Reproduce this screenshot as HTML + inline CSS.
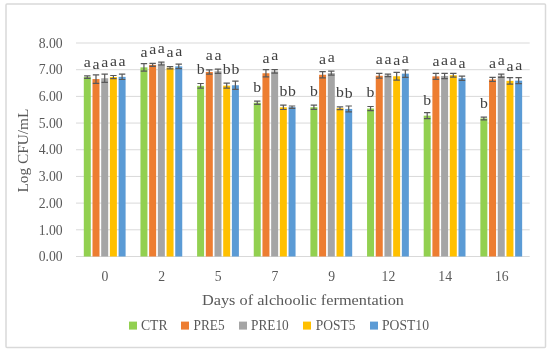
<!DOCTYPE html>
<html><head><meta charset="utf-8"><title>Chart</title>
<style>html,body{margin:0;padding:0;background:#fff}body{width:550px;height:353px;overflow:hidden}</style>
</head><body>
<svg width="550" height="353" viewBox="0 0 550 353" style="display:block;font-family:'Liberation Serif', serif">
<rect x="0" y="0" width="550" height="353" fill="#fff"/>
<rect x="6" y="4" width="539.5" height="343.5" fill="#fff" stroke="#D9D9D9" stroke-width="1.5" rx="1"/>
<line x1="76" x2="529.7" y1="256.50" y2="256.50" stroke="#D9D9D9" stroke-width="1"/>
<text x="62.6" y="261.20" text-anchor="end" font-size="13.7" fill="#595959">0.00</text>
<line x1="76" x2="529.7" y1="229.81" y2="229.81" stroke="#D9D9D9" stroke-width="1"/>
<text x="62.6" y="234.51" text-anchor="end" font-size="13.7" fill="#595959">1.00</text>
<line x1="76" x2="529.7" y1="203.12" y2="203.12" stroke="#D9D9D9" stroke-width="1"/>
<text x="62.6" y="207.82" text-anchor="end" font-size="13.7" fill="#595959">2.00</text>
<line x1="76" x2="529.7" y1="176.44" y2="176.44" stroke="#D9D9D9" stroke-width="1"/>
<text x="62.6" y="181.14" text-anchor="end" font-size="13.7" fill="#595959">3.00</text>
<line x1="76" x2="529.7" y1="149.75" y2="149.75" stroke="#D9D9D9" stroke-width="1"/>
<text x="62.6" y="154.45" text-anchor="end" font-size="13.7" fill="#595959">4.00</text>
<line x1="76" x2="529.7" y1="123.06" y2="123.06" stroke="#D9D9D9" stroke-width="1"/>
<text x="62.6" y="127.76" text-anchor="end" font-size="13.7" fill="#595959">5.00</text>
<line x1="76" x2="529.7" y1="96.38" y2="96.38" stroke="#D9D9D9" stroke-width="1"/>
<text x="62.6" y="101.08" text-anchor="end" font-size="13.7" fill="#595959">6.00</text>
<line x1="76" x2="529.7" y1="69.69" y2="69.69" stroke="#D9D9D9" stroke-width="1"/>
<text x="62.6" y="74.39" text-anchor="end" font-size="13.7" fill="#595959">7.00</text>
<line x1="76" x2="529.7" y1="43.00" y2="43.00" stroke="#D9D9D9" stroke-width="1"/>
<text x="62.6" y="47.70" text-anchor="end" font-size="13.7" fill="#595959">8.00</text>
<rect x="83.80" y="77.05" width="7.0" height="179.45" fill="#92D050"/>
<rect x="92.50" y="79.05" width="7.0" height="177.45" fill="#ED7D31"/>
<rect x="101.20" y="78.25" width="7.0" height="178.25" fill="#A5A5A5"/>
<rect x="109.90" y="77.05" width="7.0" height="179.45" fill="#FFC000"/>
<rect x="118.60" y="76.85" width="7.0" height="179.65" fill="#5B9BD5"/>
<rect x="140.45" y="67.35" width="7.0" height="189.15" fill="#92D050"/>
<rect x="149.15" y="64.85" width="7.0" height="191.65" fill="#ED7D31"/>
<rect x="157.85" y="63.55" width="7.0" height="192.95" fill="#A5A5A5"/>
<rect x="166.55" y="67.75" width="7.0" height="188.75" fill="#FFC000"/>
<rect x="175.25" y="66.35" width="7.0" height="190.15" fill="#5B9BD5"/>
<rect x="197.10" y="85.85" width="7.0" height="170.65" fill="#92D050"/>
<rect x="205.80" y="71.95" width="7.0" height="184.55" fill="#ED7D31"/>
<rect x="214.50" y="71.25" width="7.0" height="185.25" fill="#A5A5A5"/>
<rect x="223.20" y="85.65" width="7.0" height="170.85" fill="#FFC000"/>
<rect x="231.90" y="85.25" width="7.0" height="171.25" fill="#5B9BD5"/>
<rect x="253.75" y="102.75" width="7.0" height="153.75" fill="#92D050"/>
<rect x="262.45" y="73.25" width="7.0" height="183.25" fill="#ED7D31"/>
<rect x="271.15" y="71.45" width="7.0" height="185.05" fill="#A5A5A5"/>
<rect x="279.85" y="107.35" width="7.0" height="149.15" fill="#FFC000"/>
<rect x="288.55" y="107.15" width="7.0" height="149.35" fill="#5B9BD5"/>
<rect x="310.40" y="107.25" width="7.0" height="149.25" fill="#92D050"/>
<rect x="319.10" y="74.75" width="7.0" height="181.75" fill="#ED7D31"/>
<rect x="327.80" y="73.15" width="7.0" height="183.35" fill="#A5A5A5"/>
<rect x="336.50" y="108.25" width="7.0" height="148.25" fill="#FFC000"/>
<rect x="345.20" y="108.95" width="7.0" height="147.55" fill="#5B9BD5"/>
<rect x="367.05" y="108.55" width="7.0" height="147.95" fill="#92D050"/>
<rect x="375.75" y="75.75" width="7.0" height="180.75" fill="#ED7D31"/>
<rect x="384.45" y="75.45" width="7.0" height="181.05" fill="#A5A5A5"/>
<rect x="393.15" y="76.25" width="7.0" height="180.25" fill="#FFC000"/>
<rect x="401.85" y="73.65" width="7.0" height="182.85" fill="#5B9BD5"/>
<rect x="423.70" y="115.65" width="7.0" height="140.85" fill="#92D050"/>
<rect x="432.40" y="76.35" width="7.0" height="180.15" fill="#ED7D31"/>
<rect x="441.10" y="75.95" width="7.0" height="180.55" fill="#A5A5A5"/>
<rect x="449.80" y="75.25" width="7.0" height="181.25" fill="#FFC000"/>
<rect x="458.50" y="78.25" width="7.0" height="178.25" fill="#5B9BD5"/>
<rect x="480.35" y="118.45" width="7.0" height="138.05" fill="#92D050"/>
<rect x="489.05" y="79.45" width="7.0" height="177.05" fill="#ED7D31"/>
<rect x="497.75" y="75.75" width="7.0" height="180.75" fill="#A5A5A5"/>
<rect x="506.45" y="80.85" width="7.0" height="175.65" fill="#FFC000"/>
<rect x="515.15" y="80.65" width="7.0" height="175.85" fill="#5B9BD5"/>
<path d="M87.30 75.80V78.30M84.10 75.80H90.50M84.10 78.30H90.50" stroke="#595959" stroke-width="1.2" fill="none"/>
<text transform="translate(87.30,66.50) scale(1.15,1)" text-anchor="middle" font-size="13.7" fill="#404040">a</text>
<path d="M96.00 74.80V83.30M92.80 74.80H99.20M92.80 83.30H99.20" stroke="#595959" stroke-width="1.2" fill="none"/>
<text transform="translate(96.00,68.70) scale(1.15,1)" text-anchor="middle" font-size="13.7" fill="#404040">a</text>
<path d="M104.70 74.10V82.40M101.50 74.10H107.90M101.50 82.40H107.90" stroke="#595959" stroke-width="1.2" fill="none"/>
<text transform="translate(104.70,67.40) scale(1.15,1)" text-anchor="middle" font-size="13.7" fill="#404040">a</text>
<path d="M113.40 75.50V78.60M110.20 75.50H116.60M110.20 78.60H116.60" stroke="#595959" stroke-width="1.2" fill="none"/>
<text transform="translate(113.40,66.20) scale(1.15,1)" text-anchor="middle" font-size="13.7" fill="#404040">a</text>
<path d="M122.10 74.20V79.50M118.90 74.20H125.30M118.90 79.50H125.30" stroke="#595959" stroke-width="1.2" fill="none"/>
<text transform="translate(122.10,66.40) scale(1.15,1)" text-anchor="middle" font-size="13.7" fill="#404040">a</text>
<path d="M143.95 63.60V71.10M140.75 63.60H147.15M140.75 71.10H147.15" stroke="#595959" stroke-width="1.2" fill="none"/>
<text transform="translate(143.95,56.80) scale(1.15,1)" text-anchor="middle" font-size="13.7" fill="#404040">a</text>
<path d="M152.65 63.40V66.30M149.45 63.40H155.85M149.45 66.30H155.85" stroke="#595959" stroke-width="1.2" fill="none"/>
<text transform="translate(152.65,53.60) scale(1.15,1)" text-anchor="middle" font-size="13.7" fill="#404040">a</text>
<path d="M161.35 62.10V65.00M158.15 62.10H164.55M158.15 65.00H164.55" stroke="#595959" stroke-width="1.2" fill="none"/>
<text transform="translate(161.35,52.95) scale(1.15,1)" text-anchor="middle" font-size="13.7" fill="#404040">a</text>
<path d="M170.05 66.60V68.90M166.85 66.60H173.25M166.85 68.90H173.25" stroke="#595959" stroke-width="1.2" fill="none"/>
<text transform="translate(170.05,57.00) scale(1.15,1)" text-anchor="middle" font-size="13.7" fill="#404040">a</text>
<path d="M178.75 64.10V68.60M175.55 64.10H181.95M175.55 68.60H181.95" stroke="#595959" stroke-width="1.2" fill="none"/>
<text transform="translate(178.75,55.80) scale(1.15,1)" text-anchor="middle" font-size="13.7" fill="#404040">a</text>
<path d="M200.60 83.50V88.20M197.40 83.50H203.80M197.40 88.20H203.80" stroke="#595959" stroke-width="1.2" fill="none"/>
<text transform="translate(200.60,74.40) scale(1.15,1)" text-anchor="middle" font-size="13.7" fill="#404040">b</text>
<path d="M209.30 69.80V74.10M206.10 69.80H212.50M206.10 74.10H212.50" stroke="#595959" stroke-width="1.2" fill="none"/>
<text transform="translate(209.30,60.40) scale(1.15,1)" text-anchor="middle" font-size="13.7" fill="#404040">a</text>
<path d="M218.00 69.10V73.40M214.80 69.10H221.20M214.80 73.40H221.20" stroke="#595959" stroke-width="1.2" fill="none"/>
<text transform="translate(218.00,60.20) scale(1.15,1)" text-anchor="middle" font-size="13.7" fill="#404040">a</text>
<path d="M226.70 83.10V88.20M223.50 83.10H229.90M223.50 88.20H229.90" stroke="#595959" stroke-width="1.2" fill="none"/>
<text transform="translate(226.70,74.40) scale(1.15,1)" text-anchor="middle" font-size="13.7" fill="#404040">b</text>
<path d="M235.40 81.10V89.40M232.20 81.10H238.60M232.20 89.40H238.60" stroke="#595959" stroke-width="1.2" fill="none"/>
<text transform="translate(235.40,74.40) scale(1.15,1)" text-anchor="middle" font-size="13.7" fill="#404040">b</text>
<path d="M257.25 101.10V104.40M254.05 101.10H260.45M254.05 104.40H260.45" stroke="#595959" stroke-width="1.2" fill="none"/>
<text transform="translate(257.25,91.80) scale(1.15,1)" text-anchor="middle" font-size="13.7" fill="#404040">b</text>
<path d="M265.95 69.60V76.90M262.75 69.60H269.15M262.75 76.90H269.15" stroke="#595959" stroke-width="1.2" fill="none"/>
<text transform="translate(265.95,62.60) scale(1.15,1)" text-anchor="middle" font-size="13.7" fill="#404040">a</text>
<path d="M274.65 69.70V73.20M271.45 69.70H277.85M271.45 73.20H277.85" stroke="#595959" stroke-width="1.2" fill="none"/>
<text transform="translate(274.65,60.40) scale(1.15,1)" text-anchor="middle" font-size="13.7" fill="#404040">a</text>
<path d="M283.35 105.20V109.50M280.15 105.20H286.55M280.15 109.50H286.55" stroke="#595959" stroke-width="1.2" fill="none"/>
<text transform="translate(283.35,96.20) scale(1.15,1)" text-anchor="middle" font-size="13.7" fill="#404040">b</text>
<path d="M292.05 106.00V108.30M288.85 106.00H295.25M288.85 108.30H295.25" stroke="#595959" stroke-width="1.2" fill="none"/>
<text transform="translate(292.05,96.20) scale(1.15,1)" text-anchor="middle" font-size="13.7" fill="#404040">b</text>
<path d="M313.90 105.20V109.30M310.70 105.20H317.10M310.70 109.30H317.10" stroke="#595959" stroke-width="1.2" fill="none"/>
<text transform="translate(313.90,96.20) scale(1.15,1)" text-anchor="middle" font-size="13.7" fill="#404040">b</text>
<path d="M322.60 71.60V77.90M319.40 71.60H325.80M319.40 77.90H325.80" stroke="#595959" stroke-width="1.2" fill="none"/>
<text transform="translate(322.60,64.00) scale(1.15,1)" text-anchor="middle" font-size="13.7" fill="#404040">a</text>
<path d="M331.30 71.10V75.20M328.10 71.10H334.50M328.10 75.20H334.50" stroke="#595959" stroke-width="1.2" fill="none"/>
<text transform="translate(331.30,62.30) scale(1.15,1)" text-anchor="middle" font-size="13.7" fill="#404040">a</text>
<path d="M340.00 106.90V109.60M336.80 106.90H343.20M336.80 109.60H343.20" stroke="#595959" stroke-width="1.2" fill="none"/>
<text transform="translate(340.00,97.10) scale(1.15,1)" text-anchor="middle" font-size="13.7" fill="#404040">b</text>
<path d="M348.70 106.00V111.90M345.50 106.00H351.90M345.50 111.90H351.90" stroke="#595959" stroke-width="1.2" fill="none"/>
<text transform="translate(348.70,97.50) scale(1.15,1)" text-anchor="middle" font-size="13.7" fill="#404040">b</text>
<path d="M370.55 106.50V110.60M367.35 106.50H373.75M367.35 110.60H373.75" stroke="#595959" stroke-width="1.2" fill="none"/>
<text transform="translate(370.55,97.10) scale(1.15,1)" text-anchor="middle" font-size="13.7" fill="#404040">b</text>
<path d="M379.25 73.30V78.20M376.05 73.30H382.45M376.05 78.20H382.45" stroke="#595959" stroke-width="1.2" fill="none"/>
<text transform="translate(379.25,64.20) scale(1.15,1)" text-anchor="middle" font-size="13.7" fill="#404040">a</text>
<path d="M387.95 74.20V76.70M384.75 74.20H391.15M384.75 76.70H391.15" stroke="#595959" stroke-width="1.2" fill="none"/>
<text transform="translate(387.95,63.80) scale(1.15,1)" text-anchor="middle" font-size="13.7" fill="#404040">a</text>
<path d="M396.65 72.30V80.20M393.45 72.30H399.85M393.45 80.20H399.85" stroke="#595959" stroke-width="1.2" fill="none"/>
<text transform="translate(396.65,64.50) scale(1.15,1)" text-anchor="middle" font-size="13.7" fill="#404040">a</text>
<path d="M405.35 70.00V77.30M402.15 70.00H408.55M402.15 77.30H408.55" stroke="#595959" stroke-width="1.2" fill="none"/>
<text transform="translate(405.35,62.60) scale(1.15,1)" text-anchor="middle" font-size="13.7" fill="#404040">a</text>
<path d="M427.20 112.60V118.70M424.00 112.60H430.40M424.00 118.70H430.40" stroke="#595959" stroke-width="1.2" fill="none"/>
<text transform="translate(427.20,104.60) scale(1.15,1)" text-anchor="middle" font-size="13.7" fill="#404040">b</text>
<path d="M435.90 73.30V79.40M432.70 73.30H439.10M432.70 79.40H439.10" stroke="#595959" stroke-width="1.2" fill="none"/>
<text transform="translate(435.90,65.50) scale(1.15,1)" text-anchor="middle" font-size="13.7" fill="#404040">a</text>
<path d="M444.60 73.30V78.60M441.40 73.30H447.80M441.40 78.60H447.80" stroke="#595959" stroke-width="1.2" fill="none"/>
<text transform="translate(444.60,65.20) scale(1.15,1)" text-anchor="middle" font-size="13.7" fill="#404040">a</text>
<path d="M453.30 73.30V77.20M450.10 73.30H456.50M450.10 77.20H456.50" stroke="#595959" stroke-width="1.2" fill="none"/>
<text transform="translate(453.30,64.50) scale(1.15,1)" text-anchor="middle" font-size="13.7" fill="#404040">a</text>
<path d="M462.00 76.10V80.40M458.80 76.10H465.20M458.80 80.40H465.20" stroke="#595959" stroke-width="1.2" fill="none"/>
<text transform="translate(462.00,67.70) scale(1.15,1)" text-anchor="middle" font-size="13.7" fill="#404040">a</text>
<path d="M483.85 117.05V119.85M480.65 117.05H487.05M480.65 119.85H487.05" stroke="#595959" stroke-width="1.2" fill="none"/>
<text transform="translate(483.85,107.90) scale(1.15,1)" text-anchor="middle" font-size="13.7" fill="#404040">b</text>
<path d="M492.55 77.40V81.50M489.35 77.40H495.75M489.35 81.50H495.75" stroke="#595959" stroke-width="1.2" fill="none"/>
<text transform="translate(492.55,68.30) scale(1.15,1)" text-anchor="middle" font-size="13.7" fill="#404040">a</text>
<path d="M501.25 74.20V77.30M498.05 74.20H504.45M498.05 77.30H504.45" stroke="#595959" stroke-width="1.2" fill="none"/>
<text transform="translate(501.25,65.20) scale(1.15,1)" text-anchor="middle" font-size="13.7" fill="#404040">a</text>
<path d="M509.95 77.60V84.10M506.75 77.60H513.15M506.75 84.10H513.15" stroke="#595959" stroke-width="1.2" fill="none"/>
<text transform="translate(509.95,70.60) scale(1.15,1)" text-anchor="middle" font-size="13.7" fill="#404040">a</text>
<path d="M518.65 77.60V83.70M515.45 77.60H521.85M515.45 83.70H521.85" stroke="#595959" stroke-width="1.2" fill="none"/>
<text transform="translate(518.65,70.40) scale(1.15,1)" text-anchor="middle" font-size="13.7" fill="#404040">a</text>
<text x="104.86" y="280.8" text-anchor="middle" font-size="13.7" fill="#595959">0</text>
<text x="161.57" y="280.8" text-anchor="middle" font-size="13.7" fill="#595959">2</text>
<text x="218.28" y="280.8" text-anchor="middle" font-size="13.7" fill="#595959">5</text>
<text x="274.99" y="280.8" text-anchor="middle" font-size="13.7" fill="#595959">7</text>
<text x="331.71" y="280.8" text-anchor="middle" font-size="13.7" fill="#595959">9</text>
<text x="388.42" y="280.8" text-anchor="middle" font-size="13.7" fill="#595959">12</text>
<text x="445.13" y="280.8" text-anchor="middle" font-size="13.7" fill="#595959">14</text>
<text x="501.84" y="280.8" text-anchor="middle" font-size="13.7" fill="#595959">16</text>
<text x="303" y="305.4" text-anchor="middle" font-size="14.8" fill="#595959" textLength="202" lengthAdjust="spacingAndGlyphs">Days of alchoolic fermentation</text>
<text transform="translate(28.3,150.6) rotate(-90)" text-anchor="middle" font-size="14.5" fill="#595959" textLength="84" lengthAdjust="spacingAndGlyphs">Log CFU/mL</text>
<rect x="129" y="321.6" width="8" height="8" fill="#92D050"/>
<text x="141" y="329.9" font-size="13.9" fill="#595959" textLength="26.6" lengthAdjust="spacingAndGlyphs">CTR</text>
<rect x="181" y="321.6" width="8" height="8" fill="#ED7D31"/>
<text x="193.5" y="329.9" font-size="13.9" fill="#595959" textLength="31.1" lengthAdjust="spacingAndGlyphs">PRE5</text>
<rect x="239" y="321.6" width="8" height="8" fill="#A5A5A5"/>
<text x="251" y="329.9" font-size="13.9" fill="#595959" textLength="37.7" lengthAdjust="spacingAndGlyphs">PRE10</text>
<rect x="303" y="321.6" width="8" height="8" fill="#FFC000"/>
<text x="315.8" y="329.9" font-size="13.9" fill="#595959" textLength="39.7" lengthAdjust="spacingAndGlyphs">POST5</text>
<rect x="370" y="321.6" width="8" height="8" fill="#5B9BD5"/>
<text x="382" y="329.9" font-size="13.9" fill="#595959" textLength="47.0" lengthAdjust="spacingAndGlyphs">POST10</text>
</svg>
</body></html>
